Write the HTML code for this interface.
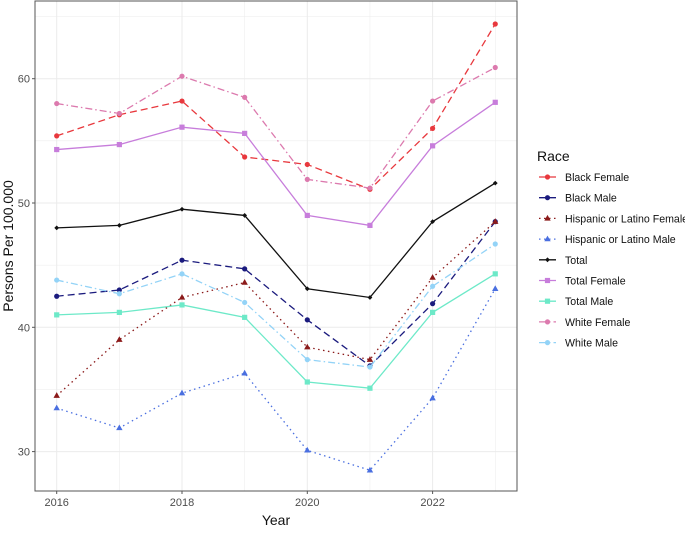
<!DOCTYPE html>
<html><head><meta charset="utf-8"><style>
body{margin:0;background:#fff;font-family:"Liberation Sans",Arial,sans-serif}
svg text{font-family:"Liberation Sans",Arial,sans-serif}
</style></head><body>
<svg id="c" width="685" height="528" xmlns="http://www.w3.org/2000/svg"></svg>
<script>
const years=[2016,2017,2018,2019,2020,2021,2022,2023];
const yTicks=[30,40,50,60];
const xTicks=[2016,2018,2020,2022];
const seriesNames=["Black Female","Black Male","Hispanic or Latino Female","Hispanic or Latino Male","Total","Total Female","Total Male","White Female","White Male"];
const blackFemale=[55.4,57.1,58.2,53.7,53.1,51.1,56.0,64.4];
const blackMale=[42.5,43.0,45.4,44.7,40.6,36.9,41.9,48.5];
const hispFemale=[34.5,39.0,42.4,43.6,38.4,37.4,44.0,48.5];
const hispMale=[33.5,31.9,34.7,36.3,30.1,28.5,34.3,43.1];
const total=[48.0,48.2,49.5,49.0,43.1,42.4,48.5,51.6];
const totalFemale=[54.3,54.7,56.1,55.6,49.0,48.2,54.6,58.1];
const totalMale=[41.0,41.2,41.8,40.8,35.6,35.1,41.2,44.3];
const whiteFemale=[58.0,57.2,60.2,58.5,51.9,51.2,58.2,60.9];
const whiteMale=[43.8,42.7,44.3,42.0,37.4,36.8,43.3,46.7];
const values=[blackFemale,blackMale,hispFemale,hispMale,total,totalFemale,totalMale,whiteFemale,whiteMale];
const styles=[
 {c:"#e8383d",d:"7,4",m:"circle"},{c:"#1b1b7e",d:"7,4",m:"circle"},
 {c:"#8b1a1a",d:"1.5,3.5",m:"tri"},{c:"#4a6fe0",d:"1.5,3.5",m:"tri"},
 {c:"#111",d:"",m:"diamond"},{c:"#c77ddb",d:"",m:"square"},
 {c:"#6de9c8",d:"",m:"square"},{c:"#dc7aae",d:"7,3,1.5,3",m:"circle"},
 {c:"#93d3f7",d:"7,3,1.5,3",m:"circle"}];
const L=35,R=517,T=1,B=491;
const x=v=>56.7+(v-2016)*(182-56.7)/2;
const y=v=>78.7+(60-v)*12.43;
const svg=document.getElementById('c');
const NS="http://www.w3.org/2000/svg";
function el(t,a,p){const e=document.createElementNS(NS,t);for(const k in a)e.setAttribute(k,a[k]);(p||svg).appendChild(e);return e;}
const bg=el('rect',{x:L,y:T,width:R-L,height:B-T,fill:'#fff'});


for(let v=30;v<=65;v+=5){const g=el('line',{x1:L,x2:R,y1:y(v),y2:y(v),stroke:'#ebebeb','stroke-width':v%10==0?1:0.5});
}
for(const yr of years){const g=el('line',{x1:x(yr),x2:x(yr),y1:T,y2:B,stroke:'#ebebeb','stroke-width':yr%2==0?1:0.5});
}
function marker(m,cx,cy,c,g){
 if(m=="circle")return el('circle',{cx,cy,r:2.6,fill:c},g);
 if(m=="square")return el('rect',{x:cx-2.6,y:cy-2.6,width:5.2,height:5.2,fill:c},g);
 if(m=="tri")return el('polygon',{points:`${cx},${cy-3.5} ${cx-3.2},${cy+2.2} ${cx+3.2},${cy+2.2}`,fill:c},g);
 return el('polygon',{points:`${cx},${cy-2.4} ${cx-2.4},${cy} ${cx},${cy+2.4} ${cx+2.4},${cy}`,fill:c},g);
}
values.forEach((vals,i)=>{
 const s=styles[i];
 const g=el('g',{});
 
 
 el('polyline',{points:vals.map((v,j)=>x(years[j])+','+y(v)).join(' '),fill:'none',stroke:s.c,'stroke-width':1.3,'stroke-dasharray':s.d},g);
 vals.forEach((v,j)=>{const p=marker(s.m,x(years[j]),y(v),s.c,g);
 });
});
const fr=el('rect',{x:L,y:T,width:R-L,height:B-T,fill:'none',stroke:'#555','stroke-width':1});

yTicks.forEach(v=>{el('line',{x1:L-3,x2:L,y1:y(v),y2:y(v),stroke:'#555'});
 const t=el('text',{x:L-5,y:y(v)+4,'text-anchor':'end','font-size':11,fill:'#4d4d4d'});t.textContent=v;
 });
xTicks.forEach(v=>{el('line',{x1:x(v),x2:x(v),y1:B,y2:B+3,stroke:'#555'});
 const t=el('text',{x:x(v),y:B+15,'text-anchor':'middle','font-size':11,fill:'#4d4d4d'});t.textContent=v;
 });
const xt=el('text',{x:276,y:525,'text-anchor':'middle','font-size':14,fill:'#111'});xt.textContent='Year';

const yt=el('text',{x:0,y:0,transform:'translate(13,246) rotate(-90)','text-anchor':'middle','font-size':14,fill:'#111'});yt.textContent='Persons Per 100.000';

const lg=el('g',{});

const lt=el('text',{x:537,y:161,'font-size':14,fill:'#111'},lg);lt.textContent='Race';
seriesNames.forEach((n,i)=>{
 const yy=177+i*20.7,s=styles[i];
 const e=el('g',{},lg);
 
 el('line',{x1:539,x2:556,y1:yy,y2:yy,stroke:s.c,'stroke-width':1.3,'stroke-dasharray':s.d},e);
 marker(s.m,547.5,yy,s.c,e);
 const t=el('text',{x:565,y:yy+4,'font-size':10.6,fill:'#111'},e);t.textContent=n;
});
</script>
</body></html>
